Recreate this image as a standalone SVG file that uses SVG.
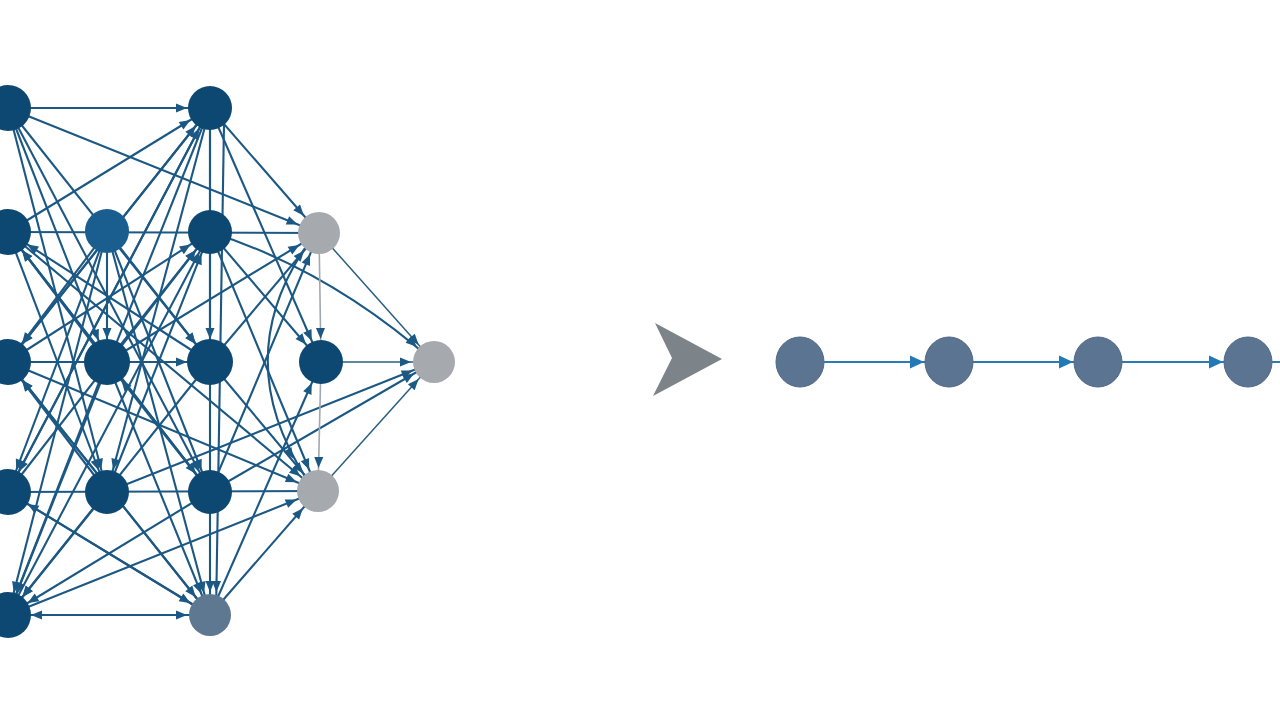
<svg xmlns="http://www.w3.org/2000/svg" width="1280" height="720" viewBox="0 0 1280 720">
<style>
.e{stroke:#1b5884;stroke-width:2.1;fill:none;marker-end:url(#ah)}
.p{stroke:#1b5884;stroke-width:2.1;fill:none}
.g{stroke:#a3a8ad;stroke-width:1.6;fill:none;marker-end:url(#ah)}
.t{stroke:#2a5f7f;stroke-width:1.5;fill:none;marker-end:url(#ah)}
.dk{fill:#0d4872}
.md{fill:#1a5d8f}
.gy{fill:#a6aaae}
.sl{fill:#5f7891}
.cn{fill:#5a7491;stroke:#4e6883;stroke-width:1}
.ce{stroke:#2b7bb8;stroke-width:2;fill:none;marker-end:url(#ch)}
</style>
<defs>
<marker id="ah" markerUnits="userSpaceOnUse" markerWidth="1" markerHeight="1" refX="0" refY="0" orient="auto" overflow="visible">
<path d="M-34,-4.5 L-23,0 L-34,4.5 z" fill="#1b5884"/>
</marker>
<marker id="ch" markerUnits="userSpaceOnUse" markerWidth="1" markerHeight="1" refX="0" refY="0" orient="auto" overflow="visible">
<path d="M-39,-6.5 L-25,0 L-39,6.5 z" fill="#2279b5"/>
</marker>
</defs>
<rect width="1280" height="720" fill="#ffffff"/>
<g id="connectors">
<line class="e" x1="8" y1="108" x2="210" y2="108"/>
<line class="e" x1="8" y1="108" x2="319" y2="233"/>
<line class="e" x1="8" y1="108" x2="107" y2="362"/>
<line class="e" x1="8" y1="108" x2="210" y2="362"/>
<line class="e" x1="8" y1="108" x2="210" y2="492"/>
<line class="e" x1="8" y1="108" x2="107" y2="492"/>
<line class="e" x1="8" y1="232" x2="210" y2="108"/>
<line class="e" x1="8" y1="362" x2="210" y2="108"/>
<line class="p" x1="8" y1="232" x2="319" y2="233"/>
<line class="p" x1="8" y1="362" x2="210" y2="362"/>
<line class="e" x1="107" y1="362" x2="210" y2="362"/>
<line class="p" x1="8" y1="492" x2="319" y2="491"/>
<line class="e" x1="8" y1="615" x2="210" y2="615"/>
<line class="e" x1="210" y1="108" x2="8" y2="362"/>
<line class="e" x1="210" y1="108" x2="8" y2="492"/>
<line class="e" x1="210" y1="108" x2="8" y2="615"/>
<line class="e" x1="210" y1="108" x2="107" y2="492"/>
<line class="e" x1="210" y1="108" x2="210" y2="615"/>
<line class="e" x1="210" y1="108" x2="321" y2="362"/>
<line class="e" x1="210" y1="108" x2="319" y2="233"/>
<line class="e" x1="224" y1="124" x2="216" y2="615"/>
<path class="e" d="M210,232 Q330,270 434,362"/>
<line class="e" x1="210" y1="232" x2="318" y2="491"/>
<line class="e" x1="210" y1="232" x2="321" y2="362"/>
<line class="e" x1="210" y1="362" x2="319" y2="233"/>
<line class="e" x1="210" y1="362" x2="318" y2="491"/>
<line class="e" x1="210" y1="362" x2="8" y2="615"/>
<line class="e" x1="210" y1="362" x2="8" y2="232"/>
<line class="e" x1="107" y1="231" x2="8" y2="362"/>
<line class="e" x1="107" y1="231" x2="8" y2="492"/>
<line class="e" x1="107" y1="231" x2="210" y2="362"/>
<line class="e" x1="107" y1="231" x2="210" y2="492"/>
<line class="e" x1="107" y1="231" x2="8" y2="615"/>
<line class="e" x1="107" y1="231" x2="210" y2="615"/>
<line class="e" x1="107" y1="231" x2="107" y2="362"/>
<line class="e" x1="107" y1="362" x2="8" y2="232"/>
<line class="e" x1="107" y1="362" x2="210" y2="232"/>
<line class="e" x1="107" y1="362" x2="210" y2="615"/>
<line class="e" x1="107" y1="362" x2="8" y2="615"/>
<line class="e" x1="107" y1="362" x2="319" y2="233"/>
<line class="e" x1="8" y1="232" x2="210" y2="492"/>
<line class="e" x1="8" y1="232" x2="318" y2="491"/>
<line class="e" x1="8" y1="232" x2="107" y2="492"/>
<line class="e" x1="8" y1="362" x2="210" y2="232"/>
<line class="e" x1="8" y1="362" x2="210" y2="615"/>
<line class="e" x1="8" y1="362" x2="318" y2="491"/>
<line class="e" x1="8" y1="492" x2="210" y2="232"/>
<line class="e" x1="8" y1="492" x2="210" y2="108"/>
<line class="e" x1="8" y1="492" x2="210" y2="615"/>
<line class="e" x1="107" y1="492" x2="210" y2="232"/>
<line class="e" x1="107" y1="492" x2="8" y2="615"/>
<line class="e" x1="107" y1="492" x2="8" y2="362"/>
<line class="e" x1="210" y1="492" x2="319" y2="233"/>
<line class="e" x1="210" y1="492" x2="8" y2="615"/>
<line class="e" x1="210" y1="492" x2="8" y2="232"/>
<line class="e" x1="210" y1="492" x2="107" y2="362"/>
<line class="e" x1="210" y1="615" x2="321" y2="362"/>
<line class="e" x1="210" y1="615" x2="318" y2="491"/>
<line class="e" x1="210" y1="615" x2="8" y2="492"/>
<line class="e" x1="210" y1="615" x2="8" y2="362"/>
<line class="e" x1="210" y1="615" x2="8" y2="615"/>
<line class="e" x1="8" y1="615" x2="318" y2="491"/>
<line class="e" x1="8" y1="615" x2="210" y2="232"/>
<line class="e" x1="210" y1="108" x2="210" y2="362"/>
<line class="e" x1="107" y1="492" x2="434" y2="362"/>
<line class="e" x1="210" y1="492" x2="434" y2="362"/>
<path class="e" d="M305,248 Q230,360 306,478"/>
<line class="g" x1="319" y1="233" x2="321" y2="362"/>
<line class="g" x1="321" y1="362" x2="318" y2="491"/>
<line class="t" x1="319" y1="233" x2="434" y2="362"/>
<line class="t" x1="321" y1="362" x2="434" y2="362"/>
<line class="t" x1="318" y1="491" x2="434" y2="362"/>
<line class="ce" x1="824" y1="362" x2="949" y2="362"/>
<line class="ce" x1="973" y1="362" x2="1098" y2="362"/>
<line class="ce" x1="1122" y1="362" x2="1248" y2="362"/>
<line stroke="#2b7bb8" stroke-width="2" x1="1272" y1="362" x2="1280" y2="362"/>
</g>
<g id="n-a1"><circle class="dk" cx="8" cy="108" r="23"/></g>
<g id="n-a2"><circle class="dk" cx="8" cy="232" r="23"/></g>
<g id="n-a3"><circle class="dk" cx="8" cy="362" r="23"/></g>
<g id="n-a4"><circle class="dk" cx="8" cy="492" r="23"/></g>
<g id="n-a5"><circle class="dk" cx="8" cy="615" r="23"/></g>
<g id="n-b2"><circle class="md" cx="107" cy="231" r="22"/></g>
<g id="n-b3"><circle class="dk" cx="107" cy="362" r="23"/></g>
<g id="n-b4"><circle class="dk" cx="107" cy="492" r="22"/></g>
<g id="n-c1"><circle class="dk" cx="210" cy="108" r="22"/></g>
<g id="n-c2"><circle class="dk" cx="210" cy="232" r="22"/></g>
<g id="n-c3"><circle class="dk" cx="210" cy="362" r="23"/></g>
<g id="n-c4"><circle class="dk" cx="210" cy="492" r="22"/></g>
<g id="n-c5"><circle class="sl" cx="210" cy="615" r="21"/></g>
<g id="n-d2"><circle class="gy" cx="319" cy="233" r="21"/></g>
<g id="n-d3"><circle class="dk" cx="321" cy="362" r="22"/></g>
<g id="n-d4"><circle class="gy" cx="318" cy="491" r="21"/></g>
<g id="n-e"><circle class="gy" cx="434" cy="362" r="21"/></g>
<g id="big-arrow"><polygon points="655,323 722,359 653,396 672,358" fill="#7c8389"/></g>
<g id="n-r1"><ellipse class="cn" cx="800" cy="362" rx="24" ry="25"/></g>
<g id="n-r2"><ellipse class="cn" cx="949" cy="362" rx="24" ry="25"/></g>
<g id="n-r3"><ellipse class="cn" cx="1098" cy="362" rx="24" ry="25"/></g>
<g id="n-r4"><ellipse class="cn" cx="1248" cy="362" rx="24" ry="25"/></g>
</svg>
